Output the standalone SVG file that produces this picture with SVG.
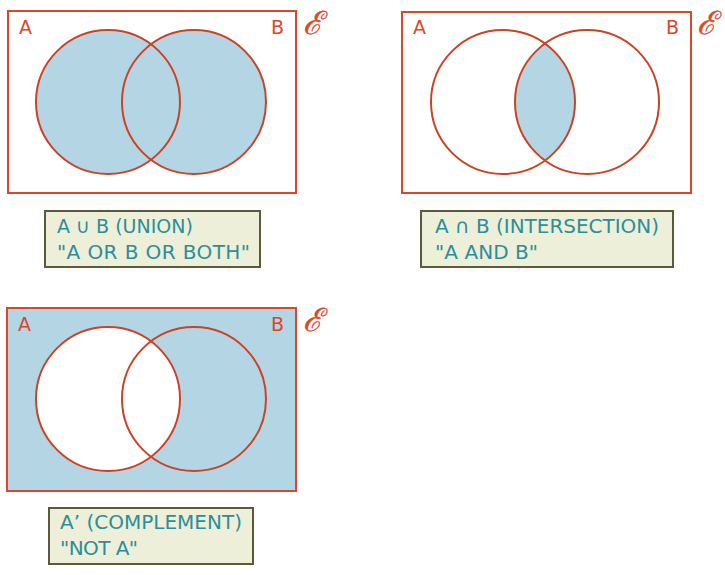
<svg xmlns="http://www.w3.org/2000/svg" width="725" height="575" viewBox="0 0 725 575">
<style>
.frame{fill:#ffffff;stroke:#d9482a;stroke-width:2}
.ring{fill:none;stroke:#cc4224;stroke-width:2}
.lbl{font-family:"DejaVu Sans","Liberation Sans",sans-serif;font-size:19px;fill:#d9482a}
.univ{font-family:"DejaVu Serif",serif;font-style:italic;font-size:32px;fill:#d9482a;stroke:#d9482a;stroke-width:0.4}
.box{fill:#edefd9;stroke:#5b5a3c;stroke-width:2}
.cap{font-family:"DejaVu Sans","Liberation Sans",sans-serif;font-size:20px;fill:#2b8e9a}
</style>
<defs>
<clipPath id="clipA1"><circle cx="503" cy="102" r="72"/></clipPath>
</defs>
<g id="union">
<rect class="frame" x="8" y="11" width="288" height="182"/>
<circle cx="108" cy="102" r="72" fill="#b4d5e4"/>
<circle cx="194" cy="102" r="72" fill="#b4d5e4"/>
<circle class="ring" cx="108" cy="102" r="72"/>
<circle class="ring" cx="194" cy="102" r="72"/>
<text class="lbl" x="19" y="34">A</text>
<text class="lbl" x="271" y="34">B</text>
<text class="univ" x="303" y="34">ℰ</text>
</g>
<g id="union-label">
<rect class="box" x="45" y="211" width="215" height="56"/>
<text class="cap" x="57" y="233" textLength="136" lengthAdjust="spacingAndGlyphs">A ∪ B (UNION)</text>
<text class="cap" x="57" y="259" textLength="193" lengthAdjust="spacing">"A OR B OR BOTH"</text>
</g>
<g id="intersection">
<rect class="frame" x="402" y="12" width="289" height="181"/>
<circle cx="587" cy="102" r="72" fill="#b4d5e4" clip-path="url(#clipA1)"/>
<circle class="ring" cx="503" cy="102" r="72"/>
<circle class="ring" cx="587" cy="102" r="72"/>
<text class="lbl" x="413" y="34">A</text>
<text class="lbl" x="666" y="34">B</text>
<text class="univ" x="697" y="34">ℰ</text>
</g>
<g id="intersection-label">
<rect class="box" x="421" y="211" width="252" height="56"/>
<text class="cap" x="435" y="233" textLength="224" lengthAdjust="spacingAndGlyphs">A ∩ B (INTERSECTION)</text>
<text class="cap" x="435" y="259" textLength="103" lengthAdjust="spacing">"A AND B"</text>
</g>
<g id="complement">
<rect class="frame" x="7" y="308" width="289" height="183" style="fill:#b4d5e4"/>
<circle cx="108" cy="399" r="72" fill="#ffffff"/>
<circle class="ring" cx="108" cy="399" r="72"/>
<circle class="ring" cx="194" cy="399" r="72"/>
<text class="lbl" x="18" y="331">A</text>
<text class="lbl" x="271" y="331">B</text>
<text class="univ" x="303" y="331">ℰ</text>
</g>
<g id="complement-label">
<rect class="box" x="49" y="508" width="204" height="56"/>
<text class="cap" x="60" y="529" textLength="182" lengthAdjust="spacingAndGlyphs">A’ (COMPLEMENT)</text>
<text class="cap" x="60" y="555" textLength="78" lengthAdjust="spacing">"NOT A"</text>
</g>
<g id="connectors"/>
</svg>
